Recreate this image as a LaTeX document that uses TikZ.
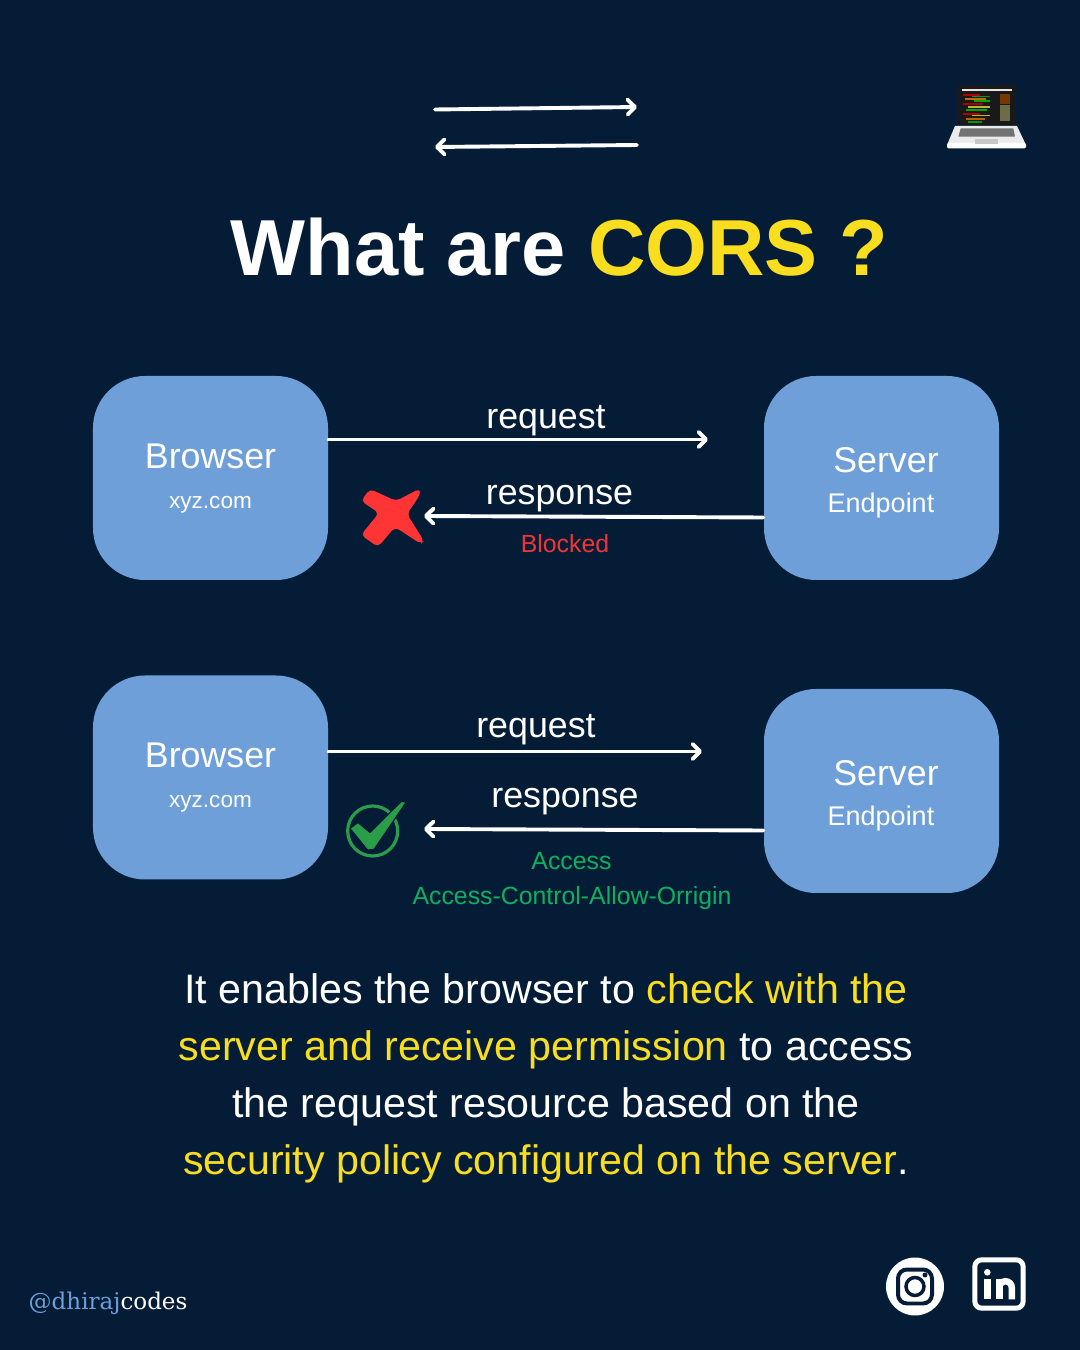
\documentclass[tikz,border=0pt]{standalone}
\usepackage{fontspec}
\setmainfont{Liberation Sans}
\newfontfamily\handlefont{DejaVu Serif}
\usetikzlibrary{calc,arrows.meta}
\definecolor{pagebg}{HTML}{051C37}
\definecolor{boxblue}{HTML}{6E9FD8}
\definecolor{hiyellow}{HTML}{F8DE1F}
\definecolor{crossred}{HTML}{FF3434}
\definecolor{blockred}{HTML}{EF3538}
\definecolor{okgreen}{HTML}{0DB060}
\definecolor{tickgreen}{HTML}{2A9D48}
\tikzset{
	endbox/.style={draw=none, fill=boxblue, rectangle, rounded corners=0.52cm, minimum width=2.35cm, minimum height=2.04cm, inner sep=0},
	flow/.style={white, line width=0.39mm, line cap=round, -{Straight Barb[length=0.75mm, width=1.5mm, round]}},
	bigtext/.style={white, anchor=base, inner sep=0, font=\fontsize{10.18}{12}\selectfont},
	subtext/.style={white, anchor=base, inner sep=0, font=\fontsize{7.68}{9}\selectfont},
	smalltext/.style={white, anchor=base, inner sep=0, font=\fontsize{6.43}{8}\selectfont},
	notetext/.style={anchor=base, inner sep=0, font=\fontsize{7.07}{9}\selectfont},
	bodytext/.style={white, anchor=base, inner sep=0, font=\fontsize{11.72}{14}\selectfont}
}
\begin{document}
\begin{tikzpicture}
	%%%%% PAGE %%%%%
	\fill[pagebg] (0, 0) rectangle (10.8, 13.5);
	\useasboundingbox (0, 0) rectangle (10.8, 13.5);

	%%%%% TOP ARROWS %%%%%
	\coordinate (topa) at (4.35, 12.405);
	\coordinate (topb) at (6.37, 12.43);
	\coordinate (topc) at (6.37, 12.05);
	\coordinate (topd) at (4.35, 12.03);
	\draw[flow] (topa) -- (topb);
	\draw[flow] (topc) -- (topd);

	%%%%% LAPTOP %%%%%
	\fill[black!90, rounded corners=0.01cm] (9.57, 12.25) rectangle (10.16, 12.65);
	\fill[black!10] (9.617, 12.59) rectangle (10.117, 12.605);
	\fill[red!70!black] (9.63, 12.555) rectangle (9.80, 12.54);
	\fill[green!60!black] (9.72, 12.54) rectangle (9.90, 12.525);
	\fill[orange!80!black] (9.65, 12.515) rectangle (9.86, 12.50);
	\fill[green!65!black] (9.74, 12.495) rectangle (9.9, 12.48);
	\fill[red!65!black] (9.63, 12.465) rectangle (9.83, 12.45);
	\fill[yellow!70!black] (9.68, 12.435) rectangle (9.9, 12.42);
	\fill[green!65!black] (9.66, 12.405) rectangle (9.87, 12.39);
	\fill[red!70!black] (9.63, 12.365) rectangle (9.80, 12.35);
	\fill[yellow!70!black] (9.72, 12.35) rectangle (9.9, 12.335);
	\fill[orange!75!black] (9.66, 12.315) rectangle (9.85, 12.30);
	\fill[green!60!black] (9.68, 12.285) rectangle (9.82, 12.27);
	\fill[orange!45!black] (10.0, 12.56) rectangle (10.1, 12.46);
	\fill[yellow!35!black] (10.0, 12.45) rectangle (10.1, 12.29);
	\fill[black!8] (9.55, 12.24) -- (10.17, 12.24) -- (10.26, 12.05) -- (9.47, 12.05) -- cycle;
	\fill[white, rounded corners=0.02cm] (9.47, 12.07) rectangle (10.26, 12.015);
	\fill[black!55] (9.607, 12.217) -- (10.133, 12.217) -- (10.15, 12.133) -- (9.583, 12.133) -- cycle;
	\fill[black!22] (9.75, 12.11) rectangle (9.983, 12.055);

	%%%%% TITLE %%%%%
	\node[anchor=base, inner sep=0, white, font=\fontsize{22.6}{27}\selectfont\bfseries] (title) at (5.595, 10.74) {What are \textcolor{hiyellow}{CORS ?}};

	%%%%% BLOCKED %%%%%
	\node[endbox] (browsera) at (2.105, 8.72) {};
	\node[endbox] (servera) at (8.815, 8.72) {};
	\node[bigtext] (browseranm) at (2.105, 8.81) {Browser};
	\node[smalltext] (browserasite) at (2.105, 8.415) {xyz.com};
	\node[bigtext] (serveranm) at (8.86, 8.77) {Server};
	\node[subtext] (serveraend) at (8.81, 8.37) {Endpoint};
	\coordinate (reqtipa) at (7.08, 9.105);
	\coordinate (resptipa) at (4.24, 8.34);
	\draw[flow] (browsera.east |- reqtipa) -- (reqtipa);
	\draw[flow] ($(servera.west)+(0, -0.395)$) -- (resptipa);
	\node[bigtext] (reqa) at (5.46, 9.21) {request};
	\node[bigtext] (respa) at (5.595, 8.455) {response};
	\node[notetext, blockred] (blocked) at (5.65, 7.975) {Blocked};
	\fill[crossred, rounded corners=0.045cm] (3.70, 8.61) -- (3.96, 8.49) -- (4.20, 8.615) -- (4.20, 8.55) -- (4.07, 8.36) -- (4.24, 8.09) -- (4.21, 8.06) -- (3.95, 8.23) -- (3.78, 8.03) -- (3.61, 8.15) -- (3.79, 8.37) -- (3.61, 8.49) -- cycle;

	%%%%% ALLOWED %%%%%
	\node[endbox] (browserb) at (2.105, 5.725) {};
	\node[endbox] (serverb) at (8.815, 5.59) {};
	\node[bigtext] (browserbnm) at (2.105, 5.82) {Browser};
	\node[smalltext] (browserbsite) at (2.105, 5.425) {xyz.com};
	\node[bigtext] (serverbnm) at (8.86, 5.64) {Server};
	\node[subtext] (serverbend) at (8.81, 5.24) {Endpoint};
	\coordinate (reqtipb) at (7.02, 5.985);
	\coordinate (resptipb) at (4.24, 5.21);
	\draw[flow] (browserb.east |- reqtipb) -- (reqtipb);
	\draw[flow] ($(serverb.west)+(0, -0.395)$) -- (resptipb);
	\node[bigtext] (reqb) at (5.36, 6.12) {request};
	\node[bigtext] (respb) at (5.65, 5.425) {response};
	\node[notetext, okgreen] (accessa) at (5.715, 4.80) {Access};
	\node[notetext, okgreen] (accessb) at (5.72, 4.45) {Access-Control-Allow-Orrigin};
	\draw[tickgreen, line width=0.032cm] (3.727, 5.19) circle (0.25);
	\draw[fill=tickgreen, draw=pagebg, line width=0.012cm, line join=round] (3.50, 5.215) -- (3.58, 5.275) -- (3.70, 5.175) -- (4.017, 5.49) -- (4.06, 5.475) -- (3.74, 5.005) -- (3.675, 5.00) -- cycle;

	%%%%% BODY %%%%%
	\node[bodytext] (linea) at (5.46, 3.46) {It enables the browser to \textcolor{hiyellow}{check with the}};
	\node[bodytext] (lineb) at (5.46, 2.89) {\textcolor{hiyellow}{server and receive permission} to access};
	\node[bodytext] (linec) at (5.46, 2.32) {the request resource based on the};
	\node[bodytext] (lined) at (5.46, 1.76) {\textcolor{hiyellow}{security policy configured on the server}.};

	%%%%% FOOTER %%%%%
	\node[anchor=base west, inner sep=0, white, font=\fontsize{6.55}{9}\selectfont\handlefont] (handle) at (0.28, 0.41) {\textcolor{boxblue}{@dhiraj}codes};

	\fill[white] (9.15, 0.635) circle (0.29);
	\draw[pagebg, line width=0.04cm, rounded corners=0.09cm] (8.98, 0.465) rectangle (9.32, 0.805);
	\draw[pagebg, line width=0.035cm] (9.15, 0.635) circle (0.09);
	\fill[pagebg] (9.25, 0.75) circle (0.025);

	\draw[white, line width=0.05cm, rounded corners=0.07cm] (9.748, 0.418) rectangle (10.232, 0.902);
	\fill[white] (9.873, 0.777) circle (0.033);
	\fill[white] (9.84, 0.507) rectangle (9.907, 0.707);
	\fill[white] (9.96, 0.507) rectangle (10.027, 0.707);
	\draw[white, line width=0.065cm] (10.118, 0.507) -- (10.118, 0.625) arc (0:180:0.0625);
\end{tikzpicture}
\end{document}
